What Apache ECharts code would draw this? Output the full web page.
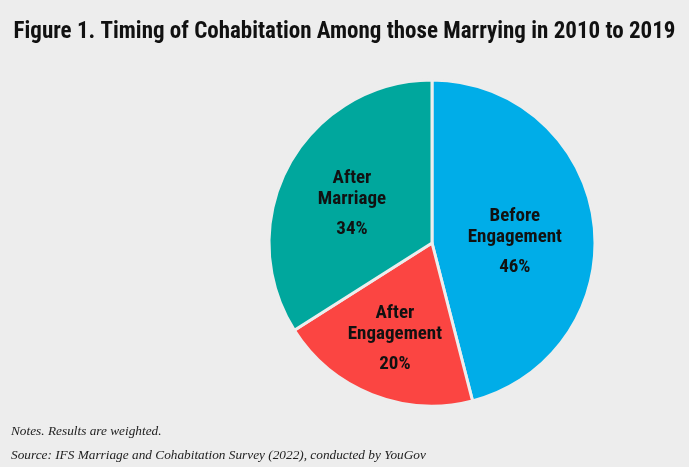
<!DOCTYPE html>
<html><head><meta charset="utf-8">
<script src="https://cdn.jsdelivr.net/npm/echarts@6/dist/echarts.min.js"></script>
<style>html,body{margin:0;padding:0;background:#ededed;}#c{width:689px;height:467px;}</style>
</head><body><div id="c"></div>
<script>
const categories = ['Before\nEngagement', 'After\nEngagement', 'After\nMarriage'];
const values = [46, 20, 34];
const colors = ['#00ade8', '#fb4542', '#00a79d'];
const labelOffsets = [[-1, 14], [-6, 22], [-6, 6]];

const chart = echarts.init(document.getElementById('c'));
const condensed = '"Roboto Condensed", sans-serif';
chart.setOption({
  backgroundColor: '#ededed',
  animation: false,
  title: [{
    text: 'Figure 1. Timing of Cohabitation Among those Marrying in 2010 to 2019',
    left: 'center', top: 16,
    textStyle: { fontFamily: condensed, fontWeight: 'bold', fontSize: 23, color: '#111' }
  }, {
    text: 'Notes. Results are weighted.',
    left: 6, top: 420,
    textStyle: { fontFamily: '"Liberation Serif", serif', fontStyle: 'italic', fontWeight: 'normal', fontSize: 13.3, color: '#222' }
  }, {
    text: 'Source: IFS Marriage and Cohabitation Survey (2022), conducted by YouGov',
    left: 6, top: 444,
    textStyle: { fontFamily: '"Liberation Serif", serif', fontStyle: 'italic', fontWeight: 'normal', fontSize: 13.3, color: '#222' }
  }],
  series: [{
    type: 'pie',
    center: [432, 243],
    radius: [0, 163],
    startAngle: 90,
    clockwise: true,
    avoidLabelOverlap: false,
    itemStyle: { borderColor: '#ededed', borderWidth: 3 },
    label: {
      show: true,
      position: 'inside',
      formatter: p => '{n|' + p.name + '}\n{v|' + p.value + '%}',
      rich: {
        n: { fontFamily: condensed, fontWeight: 'bold', fontSize: 19, color: '#111', lineHeight: 21, align: 'center' },
        v: { fontFamily: condensed, fontWeight: 'bold', fontSize: 19, color: '#111', lineHeight: 39, align: 'center' }
      }
    },
    labelLine: { show: false },
    data: categories.map((c, i) => ({
      name: c, value: values[i],
      itemStyle: { color: colors[i] },
      label: { offset: labelOffsets[i] }
    }))
  }]
});
</script></body></html>
